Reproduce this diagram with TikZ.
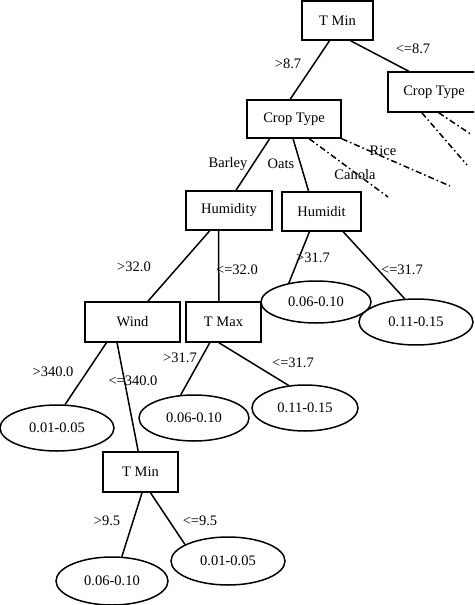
\documentclass[tikz,border=0pt]{standalone}
\usepackage{fontspec}
\setmainfont{Liberation Serif}
\usetikzlibrary{calc,shapes.geometric}
\begin{document}
\begin{tikzpicture}[x=1pt,y=-1pt,
  box/.style={draw,line width=1.5pt,fill=white,rectangle,inner sep=0pt,minimum height=39pt,font=\fontsize{14.5}{16}\selectfont},
  leaf/.style={draw,line width=1.5pt,fill=white,ellipse,inner sep=0pt,font=\fontsize{14.5}{16}\selectfont},
  edge/.style={line width=1.5pt},
  dd/.style={line width=1.5pt,dash pattern=on 6pt off 3pt on 1.5pt off 3pt},
  lbl/.style={inner sep=0pt,font=\fontsize{14.5}{16}\selectfont}]
\useasboundingbox (0,0) rectangle (474,605);
\clip (0,0) rectangle (474,605);
% nodes
\node[box,minimum width=71pt] (tmin1) at (337.5,20.5) {T Min};
\node[box,minimum width=92pt,minimum height=40pt] (crop2) at (434,92) {Crop Type};
\node[box,minimum width=94pt,minimum height=38pt] (crop1) at (294,119) {Crop Type};
\node[box,minimum width=86pt] (hum1) at (229,210.5) {Humidity};
\node[box,minimum width=79pt] (hum2) at (321.5,211.5) {Humidit};
\node[box,minimum width=95pt,minimum height=40pt] (wind) at (132.5,322) {Wind};
\node[box,minimum width=75pt,minimum height=40pt] (tmax) at (223.5,322) {T Max};
\node[box,minimum width=75pt,minimum height=40pt] (tmin2) at (140.5,472) {T Min};
\node[leaf,minimum width=110pt,minimum height=42pt] (e1) at (316,302) {0.06-0.10};
\node[leaf,minimum width=114pt,minimum height=46pt] (e2) at (416,322) {0.11-0.15};
\node[leaf,minimum width=114pt,minimum height=46pt] (e3) at (57,428) {0.01-0.05};
\node[leaf,minimum width=110pt,minimum height=46pt] (e4) at (194,418) {0.06-0.10};
\node[leaf,minimum width=106pt,minimum height=46pt] (e5) at (305,408) {0.11-0.15};
\node[leaf,minimum width=112pt,minimum height=48pt] (e6) at (112,581) {0.06-0.10};
\node[leaf,minimum width=114pt,minimum height=48pt] (e7) at (228,561) {0.01-0.05};
\coordinate (canolaend) at (388,197);
\coordinate (riceend) at (450,186);
\coordinate (c2a) at (467,165);
\coordinate (c2b) at (472,135);
% edges
\draw[edge] ($(tmin1.south west)!0.39!(tmin1.south east)$) -- ($(crop1.north west)!0.46!(crop1.north east)$);
\draw[edge] ($(tmin1.south west)!0.68!(tmin1.south east)$) -- ($(crop2.north west)!0.23!(crop2.north east)$);
\draw[edge] ($(crop1.south west)!0.245!(crop1.south east)$) -- ($(hum1.north west)!0.58!(hum1.north east)$);
\draw[edge] ($(crop1.south west)!0.49!(crop1.south east)$) -- ($(hum2.north west)!0.34!(hum2.north east)$);
\draw[dd] ($(crop1.south west)!0.66!(crop1.south east)$) -- (canolaend);
\draw[dd] (crop1.south east) -- (riceend);
\draw[dd] ($(crop2.south west)!0.37!(crop2.south east)$) -- (c2a);
\draw[dd] ($(crop2.south west)!0.55!(crop2.south east)$) -- (c2b);
\draw[edge] ($(hum1.south west)!0.28!(hum1.south east)$) -- ($(wind.north west)!0.66!(wind.north east)$);
\draw[edge] ($(hum1.south west)!0.38!(hum1.south east)$) -- ($(tmax.north west)!0.44!(tmax.north east)$);
\draw[edge] ($(hum2.south west)!0.35!(hum2.south east)$) -- (e1.145);
\draw[edge] ($(hum2.south west)!0.77!(hum2.south east)$) -- (e2.116);
\draw[edge] ($(wind.south west)!0.23!(wind.south east)$) -- (e3.71);
\draw[edge] ($(wind.south west)!0.34!(wind.south east)$) -- ($(tmin2.north west)!0.47!(tmin2.north east)$);
\draw[edge] ($(tmax.south west)!0.32!(tmax.south east)$) -- (e4.120);
\draw[edge] ($(tmax.south west)!0.44!(tmax.south east)$) -- (e5.126);
\draw[edge] ($(tmin2.south west)!0.52!(tmin2.south east)$) -- (e6.68);
\draw[edge] ($(tmin2.south west)!0.63!(tmin2.south east)$) -- (e7.159);
% labels
\node[lbl] (l1) at (288,64) {>8.7};
\node[lbl] (l2) at (413,49) {<=8.7};
\node[lbl] (l3) at (383,151) {Rice};
\node[lbl] (l4) at (355,175) {Canola};
\node[lbl] (l5) at (228,164) {Barley};
\node[lbl] (l6) at (281,164) {Oats};
\node[lbl] (l7) at (134,267) {>32.0};
\node[lbl] (l8) at (237,270) {<=32.0};
\node[lbl] (l9) at (313,258) {>31.7};
\node[lbl] (l10) at (402,270) {<=31.7};
\node[lbl] (l11) at (53,372) {>340.0};
\node[lbl] (l12) at (133,381) {<=340.0};
\node[lbl] (l13) at (180,358) {>31.7};
\node[lbl] (l14) at (293,363) {<=31.7};
\node[lbl] (l15) at (107,521) {>9.5};
\node[lbl] (l16) at (200,521) {<=9.5};
\end{tikzpicture}
\end{document}
